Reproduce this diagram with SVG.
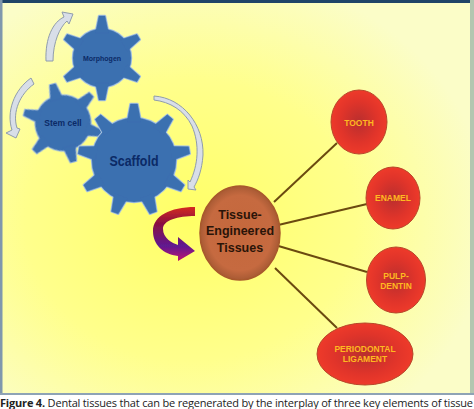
<svg xmlns="http://www.w3.org/2000/svg" width="474" height="409" viewBox="0 0 474 409">
<style>
.cap{font-family:"Open Sans","Noto Sans",sans-serif;font-size:11px;fill:#222}
.gear{font-family:"Liberation Sans",Arial,sans-serif;font-weight:bold;fill:#0b2a66;text-anchor:middle}
.tis{font-family:"Liberation Sans",Arial,sans-serif;font-weight:bold;font-size:12.5px;fill:#2a1408;text-anchor:middle}
.red{font-family:"Liberation Sans",Arial,sans-serif;font-weight:bold;font-size:8.5px;fill:#ffb820;text-anchor:middle}
.edge{fill:#d8dee8;stroke:#8f9cab;stroke-width:1}
.conn{stroke:#6b4a10;stroke-width:2;fill:none}
.rim{fill:#a8c4e0;stroke:#a8c4e0;stroke-width:2.5;stroke-linejoin:round}
.top{fill:#3b6fb0;stroke:#3b6fb0;stroke-width:.5}
.rd{fill:url(#rg);stroke:#b8482a;stroke-width:1}
</style>
<defs>
<radialGradient id="bg" gradientUnits="userSpaceOnUse" cx="190" cy="220" r="300" gradientTransform="translate(190 220) scale(1 .85) translate(-190 -220)">
<stop offset="0" stop-color="#ffff66"/><stop offset=".55" stop-color="#ffff8c"/><stop offset="1" stop-color="#fbfdc8"/>
</radialGradient>
<radialGradient id="rg"><stop offset="0" stop-color="#b92e2e"/><stop offset=".65" stop-color="#e0342a"/><stop offset="1" stop-color="#ee3a2a"/></radialGradient>
<radialGradient id="cg"><stop offset="0" stop-color="#c4683c"/><stop offset=".8" stop-color="#c66a40"/><stop offset="1" stop-color="#a85a34"/></radialGradient>
<linearGradient id="ag" x1="0" y1="0" x2="0" y2="1"><stop offset="0" stop-color="#d42a20"/><stop offset=".3" stop-color="#8a1040"/><stop offset=".72" stop-color="#601a90"/><stop offset="1" stop-color="#c01070"/></linearGradient>
<filter id="soft" x="-10%" y="-10%" width="120%" height="120%"><feGaussianBlur stdDeviation=".6"/></filter>
<polygon id="t" points="-6.5,-25 -3,-42 3,-42 6.5,-25"/>
<polygon id="u" points="-7,-38 -3.5,-56 3.5,-56 7,-38"/>
<g id="g6">
<circle r="29"/>
<use href="#t"/><use href="#t" transform="rotate(60)"/><use href="#t" transform="rotate(120)"/><use href="#t" transform="rotate(180)"/><use href="#t" transform="rotate(240)"/><use href="#t" transform="rotate(300)"/>
</g>
<g id="g9">
<circle r="42"/>
<use href="#u"/><use href="#u" transform="rotate(40)"/><use href="#u" transform="rotate(80)"/><use href="#u" transform="rotate(120)"/><use href="#u" transform="rotate(160)"/><use href="#u" transform="rotate(200)"/><use href="#u" transform="rotate(240)"/><use href="#u" transform="rotate(280)"/><use href="#u" transform="rotate(320)"/>
</g>
</defs>
<rect width="474" height="409" fill="#fff"/>
<rect x="1" y="1" width="471" height="393" fill="url(#bg)"/>
<rect y="0" width="474" height="3" fill="#1f4468"/>
<rect x="0" y="0" width="2.5" height="394" fill="#7f97ad"/>
<rect x="470" y="0" width="4" height="394" fill="#b4c6b0"/>
<rect y="393" width="474" height="2" fill="#8ea3b5"/>
<g id="connectors">
<line class="conn" x1="337" y1="143" x2="274" y2="202"/>
<line class="conn" x1="367" y1="204" x2="274" y2="226"/>
<line class="conn" x1="367" y1="272" x2="275" y2="245"/>
<line class="conn" x1="337" y1="328" x2="275" y2="268"/>
</g>
<g id="cycle-arrows" filter="url(#soft)">
<path class="edge" d="M46 61 C45 38 53 22 64 17 L62 12 L73 14 L69 24 L67 21 C60 27 53 42 53 61Z"/>
<path class="edge" d="M31 78 C14 90 6 112 12 130 L6 133 L16 138 L20 129 L17 128 C12 112 20 94 34 84Z"/>
<path class="edge" d="M154 96 C183 98 204 125 203 155 C202 170 198 180 194 187 L196 190 L188 189 L188 180 L190 182 C198 165 200 145 192 126 C184 110 170 102 154 100Z"/>
</g>
<g id="node-morphogen" transform="translate(102 58)">
<g filter="url(#soft)"><use href="#g6" class="rim"/><use href="#g6" class="top"/></g>
<text class="gear" y="2.5" font-size="7">Morphogen</text>
</g>
<g id="node-stem-cell" transform="translate(63 123) rotate(-15)">
<g filter="url(#soft)"><use href="#g6" class="rim" transform="scale(.95)"/><use href="#g6" class="top" transform="scale(.95)"/></g>
<text class="gear" transform="rotate(15)" y="3" font-size="8.5">Stem cell</text>
</g>
<g id="node-scaffold" transform="translate(134 160)">
<g filter="url(#soft)"><use href="#g9" class="rim"/><use href="#g9" class="top"/></g>
<text class="gear" y="6" font-size="14" textLength="49" lengthAdjust="spacingAndGlyphs">Scaffold</text>
</g>
<g id="curved-arrow" filter="url(#soft)">
<path fill="url(#ag)" d="M195 207 L195 216 C178 216 163 220 163 229 C163 238 172 243 178 245 L178 237 L195 251 L178 261 L178 256 C163 254 153 245 153 231 C153 216 170 207 195 207Z"/>
</g>
<g id="node-tissue">
<ellipse cx="240" cy="233" rx="40" ry="47" fill="url(#cg)" stroke="#a8582c" stroke-width="1.5"/>
<text class="tis" x="240" y="219">Tissue-</text>
<text class="tis" x="240" y="235">Engineered</text>
<text class="tis" x="240" y="252">Tissues</text>
</g>
<g id="node-tooth"><ellipse class="rd" cx="359" cy="122" rx="28" ry="32"/><text class="red" x="359" y="125.5">TOOTH</text></g>
<g id="node-enamel"><ellipse class="rd" cx="393" cy="198" rx="27" ry="31"/><text class="red" x="393" y="201">ENAMEL</text></g>
<g id="node-pulp"><ellipse class="rd" cx="396" cy="280" rx="29.5" ry="33"/><text class="red" x="396" y="278.5">PULP-</text><text class="red" x="396" y="288.5">DENTIN</text></g>
<g id="node-periodontal"><ellipse class="rd" cx="365" cy="354" rx="48" ry="31"/><text class="red" x="365" y="352">PERIODONTAL</text><text class="red" x="365" y="362">LIGAMENT</text></g>
<text class="cap" x="0" y="407" textLength="473" lengthAdjust="spacing"><tspan font-weight="bold">Figure 4.</tspan> Dental tissues that can be regenerated by the interplay of three key elements of tissue</text>
</svg>
